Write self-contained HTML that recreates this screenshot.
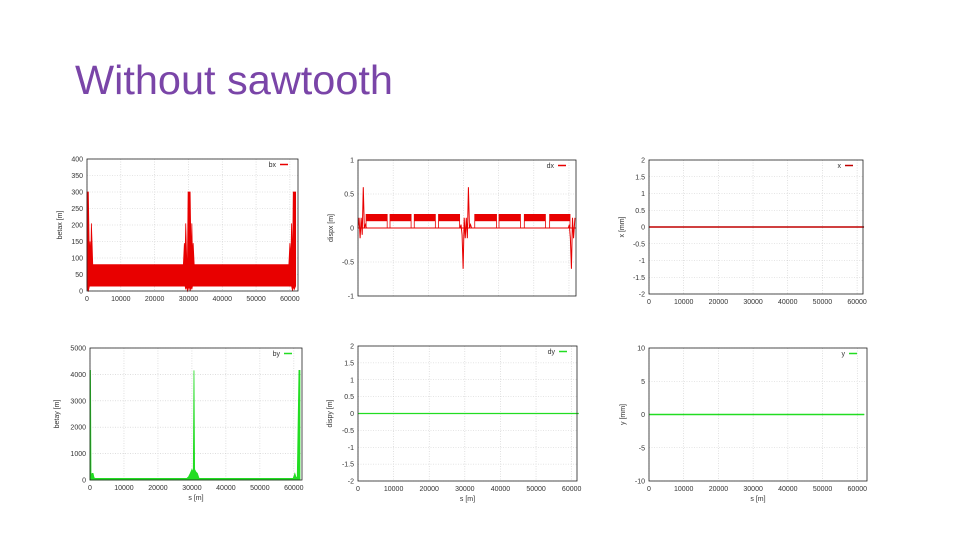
<!DOCTYPE html>
<html><head><meta charset="utf-8"><style>
html,body{margin:0;padding:0;background:#fff;}
svg{display:block;font-family:"Liberation Sans",sans-serif;}
</style></head><body>
<svg id="root" width="960" height="540" viewBox="0 0 960 540">
<text x="75" y="94" font-size="41" fill="#7a45a8" textLength="318" lengthAdjust="spacingAndGlyphs">Without sawtooth</text>
</svg>
<script>
// shared x ticks
const xTicks = [0,10000,20000,30000,40000,50000,60000];
// bx envelope (betax) data
const bxS   = [0,100,400,700,900,1100,1300,1500,1700,2000,28500,28800,29000,29200,29500,29700,29900,30200,30500,30800,31000,31200,31400,31700,32000,59700,60000,60300,60500,60800,61000,61300,61700];
const bxMax = [300,300,300,90,150,90,205,145,80,80,80,145,100,205,90,80,300,300,300,90,205,100,145,80,80,80,145,100,205,90,300,300,300];
const bxMin = [15,5,0,15,15,15,15,15,15,15,15,15,15,5,15,0,5,15,0,15,5,15,15,15,15,15,15,15,15,0,15,5,15];
// dx (dispx) thin line data
const dxS = [0,300,600,900,1200,1500,1800,2100,2400,29000,29300,29600,29900,30200,30500,30800,31100,31400,31700,32000,32300,32600,59800,60100,60400,60700,61000,61300,61700];
const dxV = [0,0.15,-0.15,0.15,-0.1,0.6,0,0.05,0,0,0.05,-0.1,-0.6,0.15,-0.15,0.15,-0.15,0.6,0,0.05,0,0,0,0.05,-0.15,-0.6,0.15,-0.15,0.15];
// dx arc blocks
const dxBlockStart = [2300,9100,16000,22900,33200,40100,47300,54500];
const dxBlockEnd   = [8300,15100,22000,28900,39400,46200,53300,60300];
const dxBlockTop = 0.2, dxBlockBase = 0.1;
// by envelope
const byS   = [0,150,300,600,900,1200,1500,28500,29000,29500,30000,30400,30600,30800,31200,31600,32100,59800,60300,60600,61000,61500,61800];
const byMax = [4150,4150,120,250,250,80,60,60,120,250,400,300,4150,400,300,250,60,60,250,120,80,4150,4150];
// flat orbit / dispersion values
const dyS = [0,62000]; const dyV = [0,0];
const xS  = [0,62000]; const xV  = [0,0];
const yS  = [0,62000]; const yV  = [0,0];

const svg = document.getElementById('root');
const NS = 'http://www.w3.org/2000/svg';
function mk(tag, attrs, parent){ const e=document.createElementNS(NS,tag); for(const k in attrs) e.setAttribute(k,attrs[k]); (parent||svg).appendChild(e); return e; }

function makePlot(cfg){
  const g = mk('g',{});
  
  
  const sx = v => cfg.x0 + (v - 0) / (cfg.xmax) * (cfg.x1 - cfg.x0);
  const sy = v => cfg.y1 - (v - cfg.ymin) / (cfg.ymax - cfg.ymin) * (cfg.y1 - cfg.y0);
  cfg.yTicks.forEach(t=>{
    const l = mk('line',{x1:cfg.x0,x2:cfg.x1,y1:sy(t),y2:sy(t),stroke:'#ccc','stroke-width':0.6,'stroke-dasharray':'1,1.5'},g);
    
    
    const tx = mk('text',{x:cfg.x0-4,y:sy(t)+2.5,'font-size':7,'text-anchor':'end',fill:'#333'},g);
    tx.textContent = t;
    
    
  });
  xTicks.forEach(t=>{
    const l = mk('line',{x1:sx(t),x2:sx(t),y1:cfg.y0,y2:cfg.y1,stroke:'#ccc','stroke-width':0.6,'stroke-dasharray':'1,1.5'},g);
    
    
    if(cfg.xLabels){
      const tx = mk('text',{x:sx(t),y:cfg.y1+10,'font-size':7,'text-anchor':'middle',fill:'#333'},g);
      tx.textContent = t;
      
      
    }
  });
  if(cfg.xTitle){
    const tx = mk('text',{x:(cfg.x0+cfg.x1)/2,y:cfg.y1+20,'font-size':7,'text-anchor':'middle',fill:'#333'},g);
    tx.textContent='s [m]';
    
    
  }
  const yt = mk('text',{x:0,y:0,'font-size':7,'text-anchor':'middle',fill:'#333',transform:`translate(${cfg.x0-cfg.ytOff},${(cfg.y0+cfg.y1)/2}) rotate(-90)`},g);
  yt.textContent = cfg.yTitle;
  
  
  cfg.draw(g, sx, sy);
  const fr = mk('rect',{x:cfg.x0,y:cfg.y0,width:cfg.x1-cfg.x0,height:cfg.y1-cfg.y0,fill:'none',stroke:'#222','stroke-width':0.8},g);
  
  
  const lt = mk('text',{x:cfg.x1-22,y:cfg.y0+8,'font-size':7,'text-anchor':'end',fill:'#333'},g);
  lt.textContent = cfg.legend;
  
  
  const ll = mk('line',{x1:cfg.x1-18,x2:cfg.x1-10,y1:cfg.y0+5.5,y2:cfg.y0+5.5,stroke:cfg.color,'stroke-width':1.5},g);
  
  
}
function envelope(g,sx,sy,S,hi,lo,color,name){
  let d='M'+S.map((s,i)=>sx(s)+','+sy(hi[i])).join(' L');
  for(let i=S.length-1;i>=0;i--) d+=' L'+sx(S[i])+','+sy(lo[i]);
  const p = mk('path',{d:d+'Z',fill:color,stroke:color,'stroke-width':0.8},g);
  
  
}
function line(g,sx,sy,S,V,color,w,name){
  const p = mk('polyline',{points:S.map((s,i)=>sx(s)+','+sy(V[i])).join(' '),fill:'none',stroke:color,'stroke-width':w},g);
  
  
}
const RED='#e80000', GREEN='#22dd22';

makePlot({name:'betax-plot',x0:87,x1:298,y0:159,y1:291,xmax:62400,ymin:0,ymax:400,yTicks:[0,50,100,150,200,250,300,350,400],xLabels:true,xTitle:false,yTitle:'betax [m]',ytOff:25,legend:'bx',color:RED,
  draw:(g,sx,sy)=>envelope(g,sx,sy,bxS,bxMax,bxMin,RED,'betax-series')});

makePlot({name:'dispx-plot',x0:358,x1:576,y0:160,y1:296,xmax:62000,ymin:-1,ymax:1,yTicks:[-1,-0.5,0,0.5,1],xLabels:false,xTitle:false,yTitle:'dispx [m]',ytOff:25,legend:'dx',color:RED,
  draw:(g,sx,sy)=>{
    line(g,sx,sy,[0,62000],[0,0],RED,1,'dispx-baseline');
    dxBlockStart.forEach((s,i)=>{
      const r = mk('rect',{x:sx(s),y:sy(dxBlockTop),width:sx(dxBlockEnd[i])-sx(s),height:sy(dxBlockBase)-sy(dxBlockTop),fill:RED},g);
      
      
      line(g,sx,sy,[s,s,dxBlockEnd[i],dxBlockEnd[i]],[0,dxBlockTop,dxBlockTop,0],RED,0.8,'dispx-arc-edge');
    });
    line(g,sx,sy,dxS,dxV,RED,1,'dispx-series');
  }});

makePlot({name:'x-orbit-plot',x0:649,x1:863,y0:160,y1:294,xmax:61700,ymin:-2,ymax:2,yTicks:[-2,-1.5,-1,-0.5,0,0.5,1,1.5,2],xLabels:true,xTitle:false,yTitle:'x [mm]',ytOff:25,legend:'x',color:'#c00000',
  draw:(g,sx,sy)=>line(g,sx,sy,xS,xV,'#c00000',1.5,'x-series')});

makePlot({name:'betay-plot',x0:90,x1:302,y0:348,y1:480,xmax:62400,ymin:0,ymax:5000,yTicks:[0,1000,2000,3000,4000,5000],xLabels:true,xTitle:true,yTitle:'betay [m]',ytOff:31,legend:'by',color:GREEN,
  draw:(g,sx,sy)=>envelope(g,sx,sy,byS,byMax,byS.map(()=>0),GREEN,'betay-series')});

makePlot({name:'dispy-plot',x0:358,x1:577,y0:346,y1:481,xmax:61500,ymin:-2,ymax:2,yTicks:[-2,-1.5,-1,-0.5,0,0.5,1,1.5,2],xLabels:true,xTitle:true,yTitle:'dispy [m]',ytOff:26,legend:'dy',color:GREEN,
  draw:(g,sx,sy)=>line(g,sx,sy,dyS,dyV,GREEN,1.3,'dispy-series')});

makePlot({name:'y-orbit-plot',x0:649,x1:867,y0:348,y1:481,xmax:62800,ymin:-10,ymax:10,yTicks:[-10,-5,0,5,10],xLabels:true,xTitle:true,yTitle:'y [mm]',ytOff:24,legend:'y',color:GREEN,
  draw:(g,sx,sy)=>line(g,sx,sy,yS,yV,GREEN,1.5,'y-series')});
</script>
</body></html>
